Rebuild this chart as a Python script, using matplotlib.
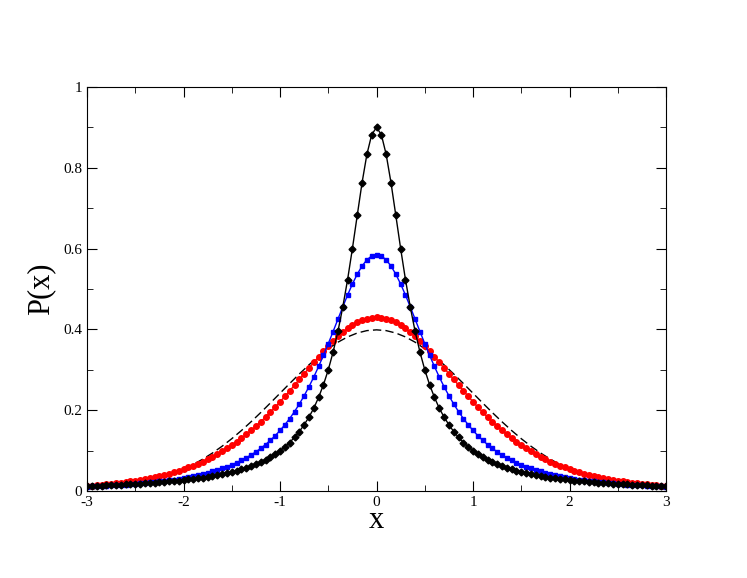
import numpy as np
import matplotlib
matplotlib.use("Agg")
import matplotlib.pyplot as plt
from matplotlib.ticker import MultipleLocator, FuncFormatter

# half-grid x = 0..3 step 0.05 (curves are symmetric)
x_half = [round(0.05 * i, 2) for i in range(61)]
black_half = [0.9, 0.882, 0.833, 0.763, 0.682, 0.600, 0.523, 0.455, 0.395, 0.344, 0.300,
              0.263, 0.232, 0.205, 0.183, 0.164, 0.147, 0.133, 0.120, 0.109, 0.100,
              0.0917, 0.0843, 0.0777, 0.0719, 0.0667, 0.0620, 0.0578, 0.0540, 0.0505, 0.0474,
              0.0445, 0.0419, 0.0395, 0.0373, 0.0353, 0.0334, 0.0317, 0.0301, 0.0286, 0.0273,
              0.0260, 0.0248, 0.0237, 0.0227, 0.0217, 0.0208, 0.0199, 0.0191, 0.0184, 0.0176,
              0.0170, 0.0163, 0.0157, 0.0152, 0.0146, 0.0141, 0.0136, 0.0132, 0.0127, 0.0123]
blue_half = [0.585, 0.5818, 0.5722, 0.5569, 0.5366, 0.5123, 0.4850, 0.4556, 0.4253, 0.3948, 0.3648,
             0.3358, 0.3083, 0.2823, 0.2582, 0.2358, 0.2153, 0.1965, 0.1794, 0.1639, 0.1498,
             0.1370, 0.1255, 0.1150, 0.1056, 0.0970, 0.0893, 0.0823, 0.0759, 0.0702, 0.0649,
             0.0602, 0.0558, 0.0519, 0.0483, 0.0450, 0.0419, 0.0392, 0.0366, 0.0343, 0.0321,
             0.0302, 0.0283, 0.0266, 0.0251, 0.0236, 0.0223, 0.0211, 0.0199, 0.0188, 0.0178,
             0.0169, 0.0160, 0.0152, 0.0145, 0.0137, 0.0131, 0.0124, 0.0119, 0.0113, 0.0108]
red_half = [0.43, 0.4292, 0.4268, 0.4229, 0.4174, 0.4105, 0.4023, 0.3929, 0.3825, 0.3710, 0.3587,
            0.3457, 0.3323, 0.3185, 0.3044, 0.2902, 0.2761, 0.2619, 0.2480, 0.2345, 0.2207,
            0.2076, 0.1950, 0.1830, 0.1716, 0.1606, 0.1499, 0.1399, 0.1305, 0.1216, 0.1132,
            0.1053, 0.0979, 0.0910, 0.0846, 0.0785, 0.0729, 0.0677, 0.0628, 0.0583, 0.0541,
            0.0502, 0.0466, 0.0432, 0.0401, 0.0372, 0.0346, 0.0321, 0.0298, 0.0277, 0.0257,
            0.0239, 0.0223, 0.0207, 0.0193, 0.0179, 0.0167, 0.0156, 0.0145, 0.0135, 0.0126]
# dashed reference curve, x = 0..3 step 0.1
xg_half = [round(0.1 * i, 1) for i in range(31)]
gauss_half = [0.3989, 0.3970, 0.3910, 0.3814, 0.3683, 0.3521, 0.3332, 0.3123, 0.2897, 0.2661, 0.2420,
              0.2179, 0.1942, 0.1714, 0.1497, 0.1295, 0.1109, 0.0940, 0.0790, 0.0656, 0.0540,
              0.0440, 0.0355, 0.0283, 0.0224, 0.0175, 0.0136, 0.0104, 0.0079, 0.0060, 0.0044]

def mirror(xh, yh):
    xh = np.array(xh); yh = np.array(yh)
    return np.concatenate([-xh[:0:-1], xh]), np.concatenate([yh[:0:-1], yh])

plt.rcParams['font.family'] = ['Liberation Serif', 'DejaVu Serif']
fig = plt.figure(figsize=(7.47, 5.78), dpi=100)
ax = fig.add_axes([0.1165, 0.1505, 0.7751, 0.699])

xg, yg = mirror(xg_half, gauss_half)
ax.plot(xg, yg, color='black', ls=(0, (6, 3)), lw=1)
for yh, c, m, ms in [(red_half, 'red', 'o', 4), (blue_half, 'blue', 's', 3.5), (black_half, 'black', 'D', 3.5)]:
    xx, yy = mirror(x_half, yh)
    ax.plot(xx, yy, color=c, lw=1, marker=m, ms=ms, mec=c, mfc=c)

ax.set_xlim(-3, 3)
ax.set_ylim(0, 1)
ax.xaxis.set_major_locator(MultipleLocator(1))
ax.xaxis.set_minor_locator(MultipleLocator(0.5))
ax.yaxis.set_major_locator(MultipleLocator(0.2))
ax.yaxis.set_minor_locator(MultipleLocator(0.1))
ax.xaxis.set_major_formatter(FuncFormatter(lambda v, p: f"{v:g}"))
ax.yaxis.set_major_formatter(FuncFormatter(lambda v, p: f"{v:g}"))
ax.tick_params(which='both', direction='in', top=True, right=True, labelsize=11)
ax.tick_params(which='major', length=7)
ax.tick_params(which='minor', length=4)
ax.set_xlabel('x', fontsize=22, labelpad=-2)
ax.set_ylabel('P(x)', fontsize=22, labelpad=6)
fig.savefig('out.png', dpi=100)
